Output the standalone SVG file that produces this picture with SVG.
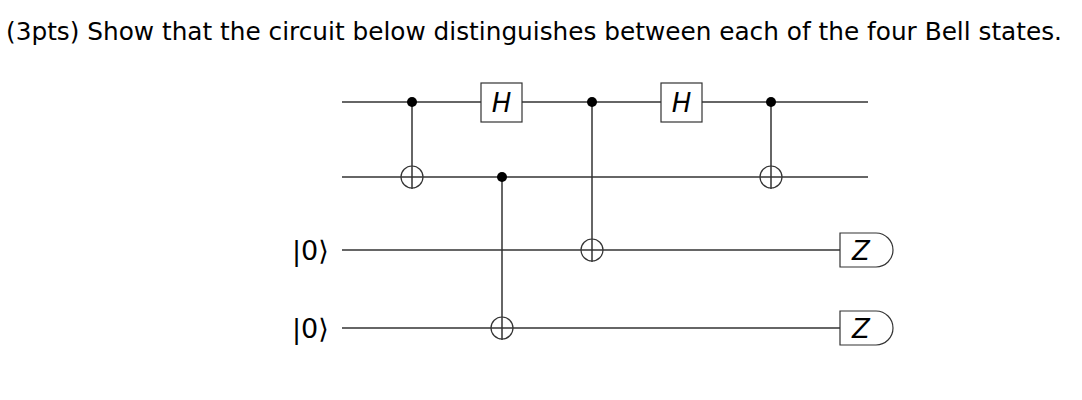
<svg xmlns="http://www.w3.org/2000/svg" width="1082" height="400" viewBox="0 0 1082 400">
<style>
.w{stroke:#333;stroke-width:1.5;fill:none}
.g{stroke:#333;stroke-width:1.2;fill:#fff}
.o{stroke:#333;stroke-width:1.2;fill:none}
.t{font-family:"DejaVu Sans","Liberation Sans",sans-serif;fill:#000}
</style>
<rect width="1082" height="400" fill="#fff"/>
<text class="t" x="6" y="40" font-size="25" textLength="1056" lengthAdjust="spacingAndGlyphs">(3pts) Show that the circuit below distinguishes between each of the four Bell states.</text>
<g id="wires">
<line class="w" x1="342" y1="102" x2="868" y2="102"/>
<line class="w" x1="342" y1="177" x2="868" y2="177"/>
<line class="w" x1="342" y1="250" x2="840" y2="250"/>
<line class="w" x1="342" y1="328" x2="840" y2="328"/>
</g>
<g id="connectors">
<line class="w" x1="412" y1="102" x2="412" y2="189"/>
<line class="w" x1="502" y1="177" x2="502" y2="340"/>
<line class="w" x1="592" y1="102" x2="592" y2="262"/>
<line class="w" x1="771" y1="102" x2="771" y2="189"/>
</g>
<g id="cnot1"><circle cx="412" cy="102" r="5" fill="#000"/><circle class="o" cx="412" cy="177" r="11"/></g>
<g id="h1"><rect class="g" x="481" y="83" width="41" height="39"/><text class="t" x="501.5" y="112" font-size="26" font-style="italic" text-anchor="middle">H</text></g>
<g id="cnot2"><circle cx="502" cy="177" r="5" fill="#000"/><circle class="o" cx="502" cy="328" r="11"/></g>
<g id="cnot3"><circle cx="592" cy="102" r="5" fill="#000"/><circle class="o" cx="592" cy="250" r="11"/></g>
<g id="h2"><rect class="g" x="661" y="83" width="41" height="39"/><text class="t" x="681.5" y="112" font-size="26" font-style="italic" text-anchor="middle">H</text></g>
<g id="cnot4"><circle cx="771" cy="102" r="5" fill="#000"/><circle class="o" cx="771" cy="177" r="11"/></g>
<g id="m1"><path class="g" d="M840 233 H876 A17 17 0 0 1 876 267 H840 Z"/><text class="t" x="861" y="260" font-size="26" font-style="italic" text-anchor="middle">Z</text></g>
<g id="m2"><path class="g" d="M840 311 H876 A17 17 0 0 1 876 345 H840 Z"/><text class="t" x="861" y="338" font-size="26" font-style="italic" text-anchor="middle">Z</text></g>
<g id="in1"><text class="t" x="292" y="260" font-size="27">|0⟩</text></g>
<g id="in2"><text class="t" x="292" y="338" font-size="27">|0⟩</text></g>
</svg>
